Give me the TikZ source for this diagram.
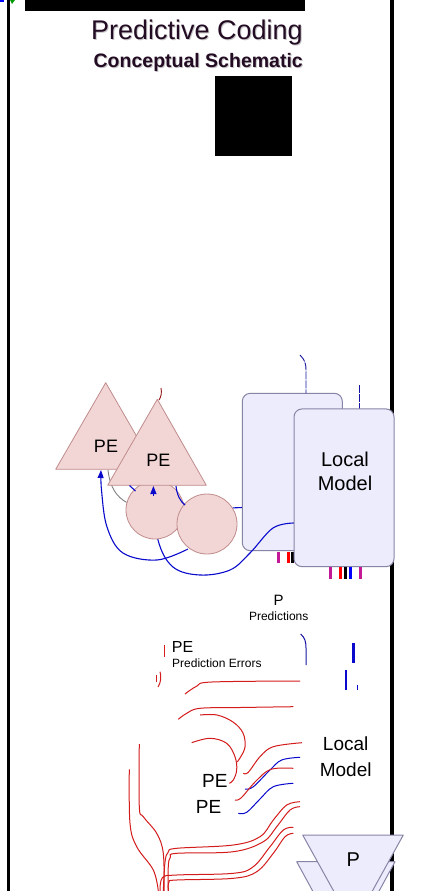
\documentclass[tikz,border=0pt]{standalone}
\usepackage{fontspec}
\setmainfont{Liberation Sans}
\usetikzlibrary{arrows.meta}
\definecolor{pefill}{RGB}{242,214,214}
\definecolor{pedraw}{RGB}{192,140,140}
\definecolor{lmfill}{RGB}{236,236,252}
\definecolor{lmdraw}{RGB}{135,133,165}
\definecolor{titlec}{RGB}{35,12,35}
\definecolor{redl}{RGB}{212,28,28}
\definecolor{bluel}{RGB}{10,10,205}
\definecolor{dblue}{RGB}{20,20,160}
\definecolor{magb}{RGB}{195,25,150}
\begin{document}
\begin{tikzpicture}[x=1pt,y=-1pt,
  pe/.style={fill=pefill,draw=pedraw,line width=0.8pt,line join=round},
  pecirc/.style={circle,fill=pefill,draw=pedraw,line width=0.8pt,inner sep=0pt},
  lm/.style={rectangle,fill=lmfill,draw=lmdraw,line width=1pt,rounded corners=8pt,inner sep=0pt},
  lmtri/.style={fill=lmfill,draw=lmdraw,line width=1pt,line join=round},
  bluearrow/.style={draw=bluel,line width=1.1pt},
  bluetip/.style={draw=bluel,line width=1.1pt,-{Triangle[length=8pt,width=6pt]}},
  redline/.style={draw=redl,line width=1pt},
  bar/.style={line width=3pt},
  txt/.style={inner sep=0pt,anchor=base}]
\useasboundingbox (0,0) rectangle (423,891);
\fill[white] (0,0) rectangle (423,891);
% frame lines
\draw[line width=3.5pt] (8.5,0) -- (8.5,891);
\draw[line width=4pt] (391.7,0) -- (391.7,891);
\fill[blue] (0,0) rectangle (4,2);
\fill[green!60!black] (10,0) -- (15,0) -- (12,4) -- cycle;
% top bar and black square
\fill[black] (25,0) rectangle (305,10.7);
\fill[black] (215,75.7) rectangle (292.3,155.7);
% titles
\node[txt,anchor=base east,text=gray!45,font=\fontsize{27}{30}\selectfont] at (304,41) {Predictive Coding};
\node[txt,anchor=base east,text=titlec,font=\fontsize{27}{30}\selectfont] (title) at (303,40) {Predictive Coding};
\node[txt,anchor=base east,text=gray!45,font=\bfseries\fontsize{19.5}{22}\selectfont] at (304,68) {Conceptual Schematic};
\node[txt,anchor=base east,text=titlec,font=\bfseries\fontsize{19.5}{22}\selectfont] (subtitle) at (303,67) {Conceptual Schematic};
% box 1 and its bars
\node[lm,minimum width=100pt,minimum height=157.4pt] (box1) at (292.3,472) {};
\draw[bar,magb] (278.3,551.7) -- (278.3,563);
\draw[bar,red] (288.3,551.7) -- (288.3,563);
\draw[bar,black] (292.7,551.7) -- (292.7,563);
% blue lines above boxes
\draw[dblue,line width=0.9pt,dash pattern=on 8pt off 1pt] (300,355) .. controls (305,360) and (306,364) .. (306,370) -- (306,393.3);
\draw[dblue,line width=0.9pt,dash pattern=on 8pt off 1pt] (359.3,385) -- (359.3,409);
% arrows (behind circles)
\draw[bluearrow] plot[smooth,tension=0.6] coordinates {(294,523) (273,528) (250,553) (230,570) (200,575) (173,567) (158,540) (153.4,494)};
\draw[bluetip] plot[smooth,tension=0.6] coordinates {(188,549) (157,560) (123,553) (107,527) (101.5,490) (101,470)};
% triangle 1
\coordinate (t1apex) at (105.7,382.7);
\coordinate (t1l) at (55.7,469.3);
\coordinate (t1r) at (155.7,469.3);
\draw[pe] (t1apex) -- (t1l) -- (t1r) -- cycle;
\node[txt,font=\fontsize{18}{20}\selectfont] (pe1) at (106,452.3) {PE};
% circles
\node[pecirc,minimum size=58pt] (c1) at (155,510) {};
\draw[gray,line width=0.9pt] (108,470) .. controls (110,488) and (117,497) .. (c1.165);
\node[pecirc,minimum size=60pt] (c2) at (207,524) {};
% triangle 2
\coordinate (t2apex) at (157.3,399.3);
\coordinate (t2l) at (107.7,485.3);
\coordinate (t2r) at (206.3,485.3);
\draw[pe] (t2apex) -- (t2l) -- (t2r) -- cycle;
\node[txt,font=\fontsize{18}{20}\selectfont] (pe2) at (158.3,466.7) {PE};
\draw[redl!70!black,line width=0.9pt] (161,388) .. controls (162,393) and (161,397) .. (159,400);
% arrow tip on top
\draw[bluetip] (153.4,496) -- (153.4,486);
% short blue links
\draw[bluearrow] (129.5,485.5) -- (135.5,491);
\draw[bluearrow] (176,486) .. controls (177,495) and (180,501) .. (185,505);
\draw[bluearrow] (c2.32) -- (box1.west |- 0,507.5);
% box 2 and bars
\node[lm,minimum width=100pt,minimum height=157.7pt] (box2) at (344,487.8) {};
\node[txt,font=\fontsize{20}{24}\selectfont] (lm1a) at (345,466) {Local};
\node[txt,font=\fontsize{20}{24}\selectfont] (lm1b) at (345,490.7) {Model};
\draw[bar,magb] (330,567) -- (330,579);
\draw[bar,red] (340,567) -- (340,579);
\draw[bar,black] (345,567) -- (345,579);
\draw[bar,blue] (350,567) -- (350,579);
\draw[bar,magb] (360,567) -- (360,579);
% legend
\node[txt,font=\fontsize{15}{17}\selectfont] (plbl) at (278.7,605) {P};
\node[txt,font=\fontsize{12}{14}\selectfont] (plbl2) at (278.7,620.7) {Predictions};
\node[txt,anchor=base west,font=\fontsize{16}{18}\selectfont] (pelbl) at (171.7,652.3) {PE};
\node[txt,anchor=base west,font=\fontsize{12}{14}\selectfont] (pelbl2) at (172,667) {Prediction Errors};
\draw[redline] (164,645) -- (164,657);
\draw[redline] (160,671.7) .. controls (161.5,677) and (161,682) .. (158,687);
\draw[redline] (156.7,675) -- (156.7,682);
\draw[dblue,line width=1pt] (300.7,634) .. controls (305,638) and (306,642) .. (306,648) -- (306,665);
\draw[bar,line width=2.4pt,bluel] (353.3,643.3) -- (353.3,663.3);
\draw[bar,line width=2.4pt,bluel] (346,670) -- (346,690);
\draw[line width=1.4pt,bluel] (357.7,685) -- (357.7,690);
% lower red / blue lines
\draw[redline] plot[smooth,tension=0.6] coordinates {(185,694) (197,686) (212,682) (300,681)};
\draw[redline] plot[smooth,tension=0.6] coordinates {(178.3,719.3) (186.7,713.3) (200,708.3) (240,707.5) (293.3,706.7)};
\draw[redline] plot[smooth,tension=0.6] coordinates {(200,715) (217,715) (233,722) (243,733) (245,747) (240,758) (237,762)};
\draw[redline] plot[smooth,tension=0.6] coordinates {(191.7,742.7) (210,738.3) (226.7,743.3) (235,756.7) (236.7,770) (233.3,780) (229.3,783.3)};
\draw[redline] plot[smooth,tension=0.6] coordinates {(243.3,773.3) (248.3,772.3) (260,756.7) (273.3,746.7) (302,742.7)};
\draw[bluearrow,line width=1pt] plot[smooth,tension=0.6] coordinates {(245,789) (253,787) (270,770) (281.7,760) (300,757.3)};
\draw[redline] plot[smooth,tension=0.6] coordinates {(235,800) (241,798) (256,781) (271,769.3) (293.3,768.3)};
\draw[bluearrow,line width=1pt] plot[smooth,tension=0.6] coordinates {(238.3,813.3) (246.7,812.3) (260,799) (273.3,786.7) (293.3,783.3)};
\draw[redline] plot[smooth,tension=0.6] coordinates {(300,801.7) (286.7,805) (273.3,820) (260,836.7) (233.3,845) (176.7,848.3) (168.3,852) (165,862) (163.3,891)};
\draw[redline] plot[smooth,tension=0.6] coordinates {(300,806.7) (290,810) (276.7,826.7) (263.3,841.7) (233.3,851.7) (176.7,853.3) (170.5,857) (168.3,866) (168.3,891)};
\draw[redline] plot[smooth,tension=0.6] coordinates {(293.3,827.3) (283.3,830) (270,846.7) (253.3,866.7) (233.3,873.3) (176.7,875) (162.5,877.5) (160,891)};
\draw[redline] plot[smooth,tension=0.6] coordinates {(293.3,833.3) (285,836.7) (273.3,853.3) (256.7,871.7) (233.3,878.3) (176.7,880) (169,882) (168.3,891)};
\draw[redline] plot[smooth,tension=0.6] coordinates {(139.3,744) (139.3,806.7) (143.3,816.7) (156.7,833.3) (163.3,853.3) (164,891)};
\draw[redline] plot[smooth,tension=0.6] coordinates {(129.3,769.3) (130,823.3) (136.7,846.7) (153.3,870) (158.3,891)};
% lower labels
\node[txt,font=\fontsize{19}{22}\selectfont] (lm2a) at (345.7,750.7) {Local};
\node[txt,font=\fontsize{19}{22}\selectfont] (lm2b) at (345.7,776) {Model};
\node[txt,anchor=base west,font=\fontsize{19}{22}\selectfont] (pe3) at (202,787.3) {PE};
\node[txt,anchor=base west,font=\fontsize{19}{22}\selectfont] (pe4) at (195.7,813.3) {PE};
% bottom P triangles
\draw[lmtri] (296.7,861.7) -- (395,861.7) -- (346,952) -- cycle;
\draw[lmtri] (302.7,835) -- (403.3,835) -- (353,926) -- cycle;
\node[txt,font=\fontsize{20}{22}\selectfont] (ptri) at (353.3,866) {P};
\end{tikzpicture}
\end{document}
